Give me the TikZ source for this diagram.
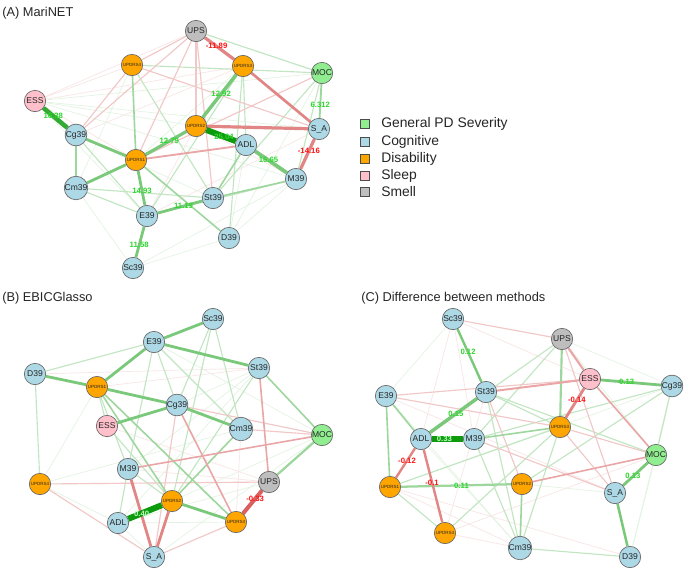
\documentclass[tikz,border=0pt]{standalone}
\usepackage{fontspec}
\setmainfont{Liberation Sans}
\pgfdeclarelayer{paper}
\pgfdeclarelayer{edges}
\pgfsetlayers{paper,edges,main}
\definecolor{gg}{RGB}{0,150,0}
\definecolor{rr}{RGB}{200,20,20}
\definecolor{genC}{HTML}{90EE90}
\definecolor{cogC}{HTML}{ADD8E6}
\definecolor{disC}{HTML}{FFA500}
\definecolor{slpC}{HTML}{FFC0CB}
\definecolor{smlC}{HTML}{BEBEBE}
\definecolor{labG}{RGB}{45,215,45}
\definecolor{labR}{RGB}{255,20,20}
\begin{document}
\begin{tikzpicture}[x=0.75pt,y=-0.75pt,
  nd/.style={circle, draw=black!60, line width=0.5pt, minimum size=16pt, inner sep=0pt,
     font=\fontsize{6.4}{7}\selectfont, text=black!85},
  gen/.style={nd, fill=genC},
  cog/.style={nd, fill=cogC},
  dis/.style={nd, fill=disC, font=\fontsize{3.4}{4}\selectfont},
  slp/.style={nd, fill=slpC},
  sml/.style={nd, fill=smlC},
  gf/.style={draw=gg!11, line width=0.5pt},
  gl/.style={draw=gg!24, line width=0.85pt},
  gm/.style={draw=gg!38, line width=1.2pt},
  gs/.style={draw=gg!52, line width=2.1pt},
  rf/.style={draw=rr!11, line width=0.5pt},
  rl/.style={draw=rr!24, line width=0.85pt},
  rm/.style={draw=rr!38, line width=1.2pt},
  rs/.style={draw=rr!52, line width=2.1pt},
  elg/.style={font=\bfseries\fontsize{5.8}{6.5}\selectfont, text=labG, inner sep=0.3pt},
  elr/.style={font=\bfseries\fontsize{5.8}{6.5}\selectfont, text=labR, inner sep=0.3pt},
  elw/.style={font=\bfseries\fontsize{5.8}{6.5}\selectfont, text=green!25!white, inner sep=0.3pt},
  ttl/.style={font=\fontsize{9.6}{11}\selectfont, anchor=base west, inner sep=0pt, text=black!85},
  lsq/.style={draw=black!70, line width=0.5pt, minimum size=6.5pt, inner sep=0pt},
  ltx/.style={font=\fontsize{10.4}{12}\selectfont, anchor=west, inner sep=0pt, text=black!85}
]
\useasboundingbox (0,0) rectangle (685,572);
\begin{pgfonlayer}{paper}
\fill[white] (0,0) rectangle (685,572);
\end{pgfonlayer}

% ---------------- titles
\node[ttl] (tA) at (2,16) {(A) MariNET};
\node[ttl] (tB) at (2,301) {(B) EBICGlasso};
\node[ttl] (tC) at (361,301) {(C) Difference between methods};

% ---------------- legend
\node[lsq, fill=genC] (q1) at (365,124) {};
\node[lsq, fill=cogC] (q2) at (365,142) {};
\node[lsq, fill=disC] (q3) at (365,159) {};
\node[lsq, fill=slpC] (q4) at (365,176) {};
\node[lsq, fill=smlC] (q5) at (365,192) {};
\node[ltx] (l1) at (381,124) {General PD Severity};
\node[ltx] (l2) at (381,142) {Cognitive};
\node[ltx] (l3) at (381,159) {Disability};
\node[ltx] (l4) at (381,176) {Sleep};
\node[ltx] (l5) at (381,192) {Smell};

% ---------------- panel A nodes
\node[sml] (aUPS) at (196,31) {UPS};
\node[dis] (aUPDRS4) at (132,65) {UPDRS4};
\node[dis] (aUPDRS3) at (243,66) {UPDRS3};
\node[gen] (aMOC) at (322,73) {MOC};
\node[slp] (aESS) at (35,101) {ESS};
\node[cog] (aCg39) at (76,135) {Cg39};
\node[dis] (aUPDRS2) at (196,126) {UPDRS2};
\node[cog] (aSA) at (319,129) {S\_A};
\node[cog] (aADL) at (246,145) {ADL};
\node[dis] (aUPDRS1) at (136,160) {UPDRS1};
\node[cog] (aM39) at (296,179) {M39};
\node[cog] (aCm39) at (76,188) {Cm39};
\node[cog] (aSt39) at (213,198) {St39};
\node[cog] (aE39) at (147,216) {E39};
\node[cog] (aD39) at (229,238) {D39};
\node[cog] (aSc39) at (133,268) {Sc39};

% ---------------- panel B nodes
\node[cog] (bSc39) at (213,319) {Sc39};
\node[cog] (bE39) at (154,342) {E39};
\node[cog] (bD39) at (35,374) {D39};
\node[cog] (bSt39) at (259,368) {St39};
\node[dis] (bUPDRS1) at (97,387) {UPDRS1};
\node[cog] (bCg39) at (177,405) {Cg39};
\node[slp] (bESS) at (107,426) {ESS};
\node[cog] (bCm39) at (241,429) {Cm39};
\node[gen] (bMOC) at (322,435) {MOC};
\node[cog] (bM39) at (128,469) {M39};
\node[dis] (bUPDRS4) at (40,484) {UPDRS4};
\node[sml] (bUPS) at (269,482) {UPS};
\node[dis] (bUPDRS2) at (172,501) {UPDRS2};
\node[cog] (bADL) at (118,523) {ADL};
\node[dis] (bUPDRS3) at (236,522) {UPDRS3};
\node[cog] (bSA) at (154,557) {S\_A};

% ---------------- panel C nodes
\node[cog] (cSc39) at (453,319) {Sc39};
\node[sml] (cUPS) at (562,339) {UPS};
\node[slp] (cESS) at (590,379) {ESS};
\node[cog] (cCg39) at (672,386) {Cg39};
\node[cog] (cE39) at (386,396) {E39};
\node[cog] (cSt39) at (486,392) {St39};
\node[dis] (cUPDRS3) at (560,427) {UPDRS3};
\node[cog] (cADL) at (421,439) {ADL};
\node[cog] (cM39) at (474,439) {M39};
\node[gen] (cMOC) at (656,455) {MOC};
\node[dis] (cUPDRS1) at (390,487) {UPDRS1};
\node[dis] (cUPDRS2) at (522,484) {UPDRS2};
\node[cog] (cSA) at (615,493) {S\_A};
\node[dis] (cUPDRS4) at (445,533) {UPDRS4};
\node[cog] (cCm39) at (520,548) {Cm39};
\node[cog] (cD39) at (630,557) {D39};

\begin{pgfonlayer}{edges}
% ===== panel A
\foreach \u/\v in {aESS/aMOC, aESS/aUPDRS2, aESS/aM39, aMOC/aD39, aCm39/aSc39, aSc39/aD39,
  aSc39/aM39, aD39/aM39, aD39/aADL, aUPDRS3/aUPDRS1, aUPDRS4/aCm39, aESS/aSA, aCg39/aSt39, aESS/aE39}
  \draw[gf] (\u) -- (\v);
\foreach \u/\v in {aUPS/aESS, aUPDRS2/aE39, aUPDRS2/aM39, aUPDRS3/aCg39, aESS/aUPDRS3,
  aESS/aUPDRS1, aUPDRS4/aESS, aSA/aE39}
  \draw[rf] (\u) -- (\v);
\foreach \u/\v in {aUPS/aMOC, aUPDRS4/aMOC, aUPDRS4/aSt39, aUPDRS3/aADL, aMOC/aM39, aCm39/aSt39,
  aCm39/aE39, aCg39/aE39, aE39/aM39, aUPDRS3/aE39, aUPDRS3/aD39, aMOC/aSt39}
  \draw[gl] (\u) -- (\v);
\foreach \u/\v in {aUPS/aUPDRS4, aUPS/aCg39, aUPS/aUPDRS2, aUPS/aUPDRS1, aUPDRS4/aSA,
  aMOC/aUPDRS1, aUPDRS4/aCg39, aUPS/aSt39}
  \draw[rl] (\u) -- (\v);
\foreach \u/\v in {aUPDRS4/aUPDRS1, aADL/aSt39, aSt39/aM39, aCg39/aCm39, aUPDRS1/aD39}
  \draw[gm] (\u) -- (\v);
\draw[rm, line width=1.4pt] (aUPDRS1) -- (aADL);
\foreach \u/\v in {aUPDRS1/aCm39, aCg39/aUPDRS1}
  \draw[gs] (\u) -- (\v);
\draw[rs, line width=2pt] (aUPDRS3) -- (aSA);
\draw[rs, line width=2.4pt] (aUPDRS2) -- (aSA);
\draw[gm, line width=1.4pt] (aMOC) -- node[elg, pos=0.6] {6.312} (aSA);
\draw[gs] (aE39) -- node[elg, pos=0.6] {11.58} (aSc39);
\draw[gs] (aE39) -- node[elg, pos=0.58] {11.19} (aSt39);
\draw[gs] (aUPDRS1) -- node[elg, pos=0.59] {14.93} (aE39);
\draw[gs, line width=2.4pt] (aUPDRS1) -- node[elg, pos=0.58] {12.79} (aUPDRS2);
\draw[gs, line width=2.6pt] (aUPDRS2) -- node[elg, pos=0.55] {12.92} (aUPDRS3);
\draw[gs, line width=2.8pt] (aADL) -- node[elg, pos=0.42] {16.65} (aM39);
\draw[rs, line width=2.4pt] (aUPS) -- node[elr, pos=0.4] {-11.89} (aUPDRS3);
\draw[rs, line width=2.4pt] (aSA) -- node[elr, pos=0.4] {-14.16} (aM39);
\draw[draw=gg!80, line width=3.4pt] (aESS) -- node[elg, pos=0.41] {16.38} (aCg39);
\draw[draw=gg!95, line width=4.5pt] (aUPDRS2) -- node[elg, pos=0.6] {25.04} (aADL);

% ===== panel B
\foreach \u/\v in {bSt39/bCg39, bSt39/bM39, bSt39/bADL, bUPDRS1/bUPDRS4, bADL/bSA, bUPDRS4/bADL,
  bUPDRS4/bCm39, bMOC/bUPDRS2, bUPS/bADL, bUPDRS3/bADL, bMOC/bSA, bD39/bCg39, bE39/bMOC}
  \draw[gf] (\u) -- (\v);
\foreach \u/\v in {bSt39/bUPDRS1, bCm39/bUPDRS3, bUPS/bM39, bESS/bUPS, bD39/bSt39}
  \draw[rf] (\u) -- (\v);
\foreach \u/\v in {bD39/bUPDRS4, bD39/bE39, bE39/bM39, bE39/bCm39, bE39/bCg39, bSc39/bCm39,
  bSc39/bCg39, bUPDRS1/bESS, bUPDRS1/bM39, bESS/bUPDRS2, bM39/bUPDRS2, bM39/bADL,
  bSc39/bUPDRS2, bSt39/bUPDRS2}
  \draw[gl] (\u) -- (\v);
\foreach \u/\v in {bUPDRS4/bUPS, bUPDRS3/bSA, bUPDRS4/bSA, bCm39/bMOC, bCg39/bMOC, bCg39/bSA}
  \draw[rl] (\u) -- (\v);
\foreach \u/\v in {bSt39/bMOC, bCm39/bUPDRS2, bUPDRS1/bUPDRS2, bUPDRS1/bUPDRS3}
  \draw[gm] (\u) -- (\v);
\draw[gm, line width=1.7pt] (bMOC) -- (bUPS);
\foreach \u/\v in {bCg39/bUPDRS3, bM39/bMOC, bSt39/bUPS}
  \draw[rm] (\u) -- (\v);
\foreach \u/\v in {bSc39/bE39, bE39/bSt39, bE39/bUPDRS1, bD39/bUPDRS1, bUPDRS1/bCg39,
  bCg39/bESS, bCg39/bCm39, bUPDRS2/bUPDRS3}
  \draw[gs] (\u) -- (\v);
\foreach \u/\v in {bM39/bSA, bUPDRS2/bSA}
  \draw[rs] (\u) -- (\v);
\draw[draw=rr!68, line width=3pt] (bUPS) -- node[elr, pos=0.36] {-0.33} (bUPDRS3);
\draw[draw=gg!95, line width=4.5pt] (bADL) -- node[elw, pos=0.4] {0.40} (bUPDRS2);

% ===== panel C
\foreach \u/\v in {cSc39/cE39, cUPS/cCg39, cUPS/cMOC, cUPDRS1/cCg39, cUPDRS2/cSA, cMOC/cD39,
  cADL/cCm39, cCg39/cD39, cE39/cCm39}
  \draw[gf] (\u) -- (\v);
\foreach \u/\v in {cSc39/cESS, cSc39/cADL, cSc39/cM39, cE39/cSA, cSt39/cUPDRS4, cUPDRS1/cCm39,
  cUPDRS4/cMOC, cUPDRS4/cCm39, cUPDRS1/cD39}
  \draw[rf] (\u) -- (\v);
\foreach \u/\v in {cCm39/cD39, cUPS/cADL, cUPS/cM39, cSt39/cCm39, cSt39/cUPDRS3, cSt39/cMOC,
  cM39/cCg39, cM39/cCm39, cUPDRS1/cUPDRS3, cUPDRS1/cUPDRS4, cUPDRS4/cUPDRS3, cUPDRS3/cCm39,
  cCg39/cMOC, cCg39/cUPDRS2}
  \draw[gl] (\u) -- (\v);
\foreach \u/\v in {cSc39/cUPS, cE39/cUPDRS3, cSt39/cUPDRS2, cUPS/cSA, cM39/cSA, cUPDRS3/cSA,
  cUPDRS3/cMOC, cE39/cESS}
  \draw[rl] (\u) -- (\v);
\foreach \u/\v in {cE39/cUPDRS1, cE39/cADL, cUPDRS2/cCm39, cM39/cUPDRS3}
  \draw[gm] (\u) -- (\v);
\draw[gm, line width=1.6pt] (cUPS) -- (cUPDRS3);
\foreach \u/\v in {cUPDRS2/cMOC, cESS/cMOC}
  \draw[rm] (\u) -- (\v);
\draw[rm, line width=1.6pt] (cUPS) -- (cESS);
\draw[rm, line width=1.5pt] (cSt39) -- (cESS);
\draw[gs, line width=1.9pt] (cSA) -- (cD39);
\draw[gs, line width=1.8pt] (cSc39) -- node[elg, pos=0.44] {0.12} (cSt39);
\draw[gs] (cESS) -- node[elg, pos=0.43] {0.13} (cCg39);
\draw[gs] (cMOC) -- node[elg, pos=0.6] {0.13} (cSA);
\draw[gm, line width=1.7pt] (cUPDRS1) -- node[elg, pos=0.55] {0.11} (cUPDRS2);
\draw[rs] (cESS) -- node[elr, pos=0.4] {-0.14} (cUPDRS3);
\draw[rs, line width=1.8pt] (cADL) -- node[elr, pos=0.42] {-0.12} (cUPDRS1);
\draw[rs, line width=1.8pt] (cADL) -- node[elr, pos=0.45] {-0.1} (cUPDRS4);
\draw[gs, line width=2.6pt] (cSt39) -- node[elg, pos=0.45] {0.15} (cADL);
\draw[draw=gg!95, line width=4.5pt] (cADL) -- node[elw, pos=0.4] {0.33} (cM39);
\end{pgfonlayer}
\end{tikzpicture}
\end{document}
